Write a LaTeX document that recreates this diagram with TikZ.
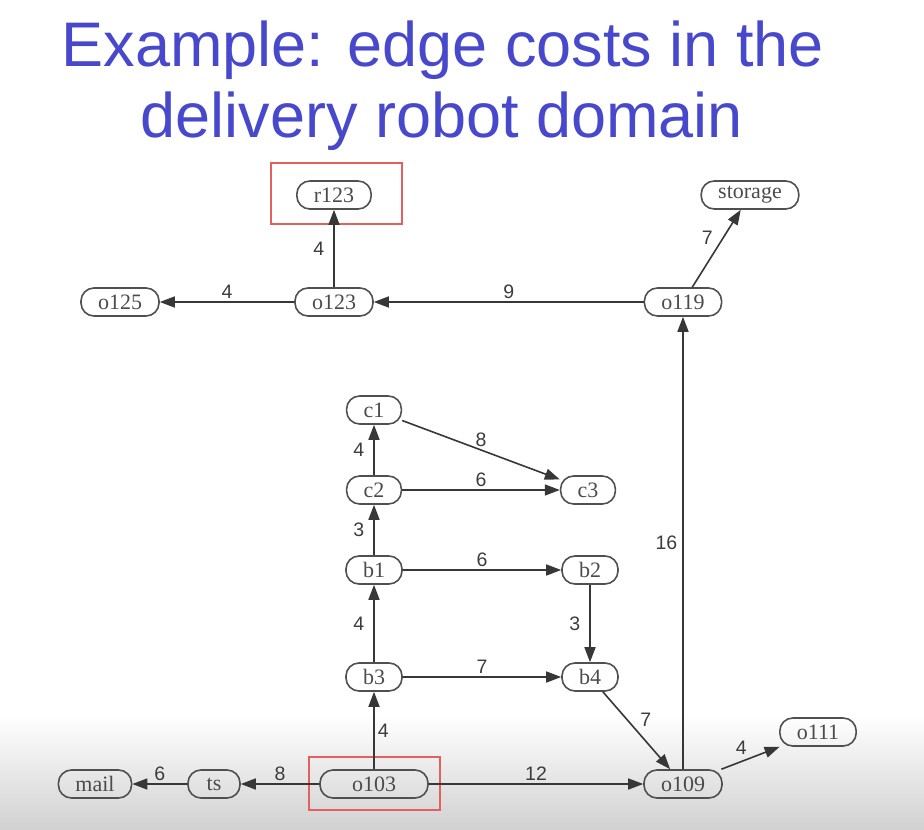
\documentclass[tikz,border=0pt]{standalone}
\usepackage{fontspec}
\setmainfont{Liberation Serif}
\setsansfont{Liberation Sans}
\usetikzlibrary{arrows.meta}

\tikzset{
  place/.style={shape=rectangle,draw=nodeline,line width=1.6pt,rounded corners=13pt,minimum width=52pt,minimum height=28pt,inner xsep=17pt,inner ysep=0pt,text=nodetext,font=\fontsize{22}{24}\selectfont},
  cost/.style={draw=edgeline,line width=1.6pt,-{Triangle[length=15pt,width=11pt]}},
  costlabel/.style={text=labeltext,inner sep=3pt,font=\sffamily\fontsize{19.5}{21}\selectfont},
  hlbox/.style={draw=hlred,line width=1.1pt},
  titletext/.style={anchor=base,text=titleblue,inner sep=0pt,font=\sffamily\fontsize{63}{70}\selectfont}
}

\begin{document}
\begin{tikzpicture}[x=1pt,y=-1pt]
    \definecolor{titleblue}{RGB}{72,72,204}
    \definecolor{nodeline}{RGB}{80,80,80}
    \definecolor{nodetext}{RGB}{75,75,75}
    \definecolor{edgeline}{RGB}{55,55,55}
    \definecolor{labeltext}{RGB}{60,60,60}
    \definecolor{hlred}{RGB}{226,96,96}
    \useasboundingbox (0,0) rectangle (924,830);
    \shade[top color=white,bottom color=black!18] (0,715) rectangle (924,830);
    % title
    \node[titletext] (title1) at (443,66) {Example: edge costs in the};
    \node[titletext] (title2) at (442,137) {delivery robot domain};
    % highlighted places
    \draw[hlbox] (271,163) rectangle (402,224);
    \draw[hlbox] (309,757) rectangle (440,810);
    % places
    \node[place] (r123) at (334,195) {r123};
    \node[place] (storage) at (750,195) {storage};
    \node[place] (o125) at (120,302) {o125};
    \node[place] (o123) at (334,302) {o123};
    \node[place] (o119) at (683,302) {o119};
    \node[place] (c1) at (374,410) {c1};
    \node[place] (c2) at (374,490) {c2};
    \node[place] (c3) at (588,490) {c3};
    \node[place] (b1) at (374,570) {b1};
    \node[place] (b2) at (590,570) {b2};
    \node[place] (b3) at (374,677) {b3};
    \node[place] (b4) at (590,677) {b4};
    \node[place] (o111) at (818,732) {o111};
    \node[place] (mail) at (95,784) {mail};
    \node[place] (ts) at (214,784) {ts};
    \node[place,minimum width=108pt] (o103) at (374,784) {o103};
    \node[place] (o109) at (683,784) {o109};
    % costs
    \draw[cost] (o123) -- node[costlabel,left=6pt] {4} (r123);
    \draw[cost] (o123) -- node[costlabel,above] {4} (o125);
    \draw[cost] (o119) -- node[costlabel,above] {9} (o123);
    \draw[cost] (o119) -- node[costlabel,above left] {7} (storage);
    \draw[cost] (c1) -- node[costlabel,above] {8} (c3);
    \draw[cost] (c2) -- node[costlabel,left=6pt] {4} (c1);
    \draw[cost] (c2) -- node[costlabel,above] {6} (c3);
    \draw[cost] (b1) -- node[costlabel,left=6pt] {3} (c2);
    \draw[cost] (b1) -- node[costlabel,above] {6} (b2);
    \draw[cost] (b2) -- node[costlabel,left=6pt] {3} (b4);
    \draw[cost] (b3) -- node[costlabel,left=6pt] {4} (b1);
    \draw[cost] (b3) -- node[costlabel,above] {7} (b4);
    \draw[cost] (o103) -- node[costlabel,right] {4} (b3);
    \draw[cost] (b4) -- node[costlabel,above right] {7} (o109);
    \draw[cost] (o109) -- node[costlabel,left=2pt] {16} (o119);
    \draw[cost] (o109) -- node[costlabel,above left] {4} (o111);
    \draw[cost] (o103) -- node[costlabel,above] {12} (o109);
    \draw[cost] (o103) -- node[costlabel,above] {8} (ts);
    \draw[cost] (ts) -- node[costlabel,above] {6} (mail);
\end{tikzpicture}
\end{document}
